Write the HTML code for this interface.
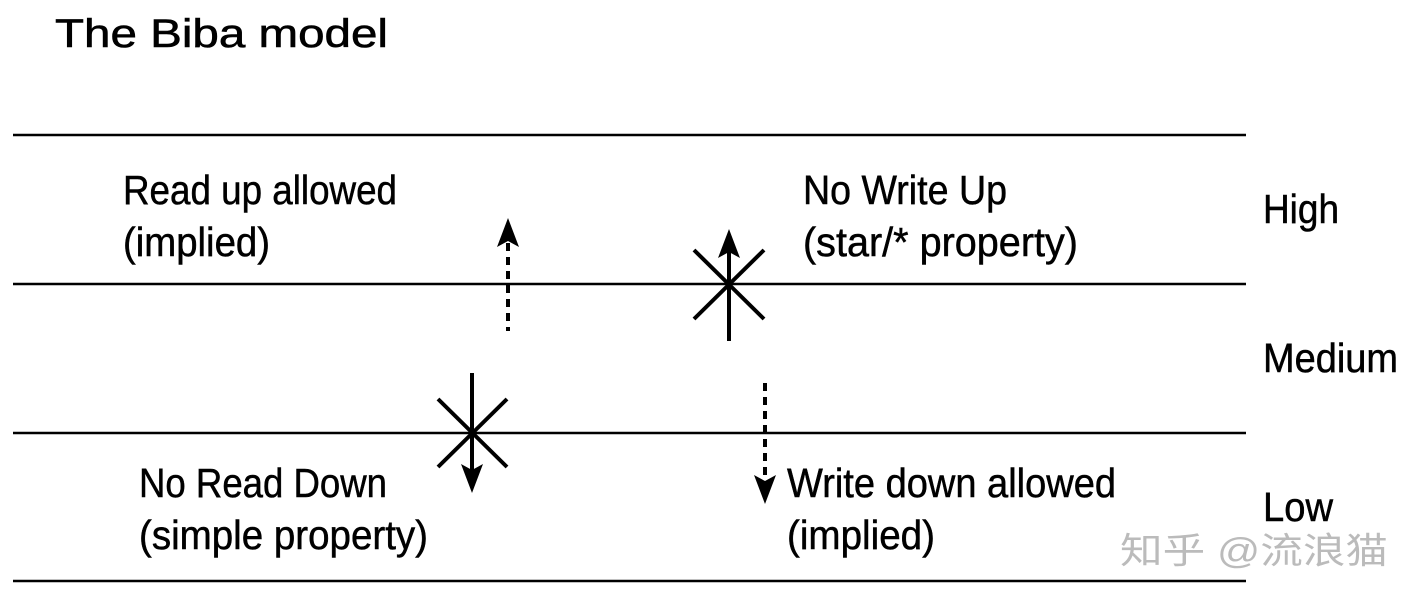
<!DOCTYPE html>
<html><head><style>body{margin:0;background:#fff}</style></head><body>
<svg width="1422" height="608" viewBox="0 0 1422 608" xmlns="http://www.w3.org/2000/svg" style="display:block">
<g stroke="#000" stroke-width="2.5">
<line x1="13" y1="135" x2="1246" y2="135"/>
<line x1="13" y1="284" x2="1246" y2="284"/>
<line x1="13" y1="433" x2="1246" y2="433"/>
<line x1="13" y1="581" x2="1246" y2="581"/>
</g>
<g stroke="#000" stroke-width="4" fill="none">
<line x1="508" y1="243" x2="508" y2="331" stroke-dasharray="8,6"/>
<line x1="765" y1="383" x2="765" y2="480" stroke-dasharray="8,6"/>
<line x1="729" y1="240" x2="729" y2="341"/>
<line x1="694" y1="250" x2="764" y2="319"/>
<line x1="694" y1="319" x2="764" y2="250"/>
<line x1="472" y1="373" x2="472" y2="475"/>
<line x1="438" y1="399" x2="507" y2="467"/>
<line x1="438" y1="467" x2="507" y2="399"/>
</g>
<g fill="#000">
<polygon points="508,218 497,247 508,241 519,247"/>
<polygon points="729,229 718,258 729,252 740,258"/>
<polygon points="472,493 461,464 472,470 483,464"/>
<polygon points="765,504 754,475 765,481 776,475"/>
</g>
<g font-family="'Liberation Sans', sans-serif" fill="#000">
<text x="55" y="47" font-size="40" textLength="333" lengthAdjust="spacingAndGlyphs" stroke="#000" stroke-width="0.6">The Biba model</text>
<g font-size="41" stroke="#000" stroke-width="0.5">
<text x="123" y="204" textLength="274" lengthAdjust="spacingAndGlyphs">Read up allowed</text>
<text x="123" y="256" textLength="147" lengthAdjust="spacingAndGlyphs">(implied)</text>
<text x="803" y="204" textLength="204" lengthAdjust="spacingAndGlyphs">No Write Up</text>
<text x="803" y="256" textLength="275" lengthAdjust="spacingAndGlyphs">(star/* property)</text>
<text x="1263" y="223" textLength="76" lengthAdjust="spacingAndGlyphs">High</text>
<text x="1263" y="372" textLength="135" lengthAdjust="spacingAndGlyphs">Medium</text>
<text x="1263" y="521" textLength="70" lengthAdjust="spacingAndGlyphs">Low</text>
<text x="139" y="497" textLength="248" lengthAdjust="spacingAndGlyphs">No Read Down</text>
<text x="139" y="549" textLength="289" lengthAdjust="spacingAndGlyphs">(simple property)</text>
<text x="787" y="497" textLength="329" lengthAdjust="spacingAndGlyphs">Write down allowed</text>
<text x="787" y="549" textLength="148" lengthAdjust="spacingAndGlyphs">(implied)</text>
</g>
<text x="1120" y="563" font-size="36" fill="#bbb" font-family="'Liberation Sans','Noto Sans CJK SC',sans-serif" textLength="268" lengthAdjust="spacingAndGlyphs">知乎 @流浪猫</text>
</g>
</svg>
</body></html>
